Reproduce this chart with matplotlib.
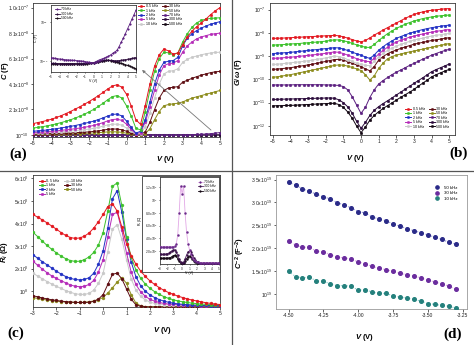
import numpy as np
import matplotlib
matplotlib.use("Agg")
import matplotlib.pyplot as plt
from matplotlib.lines import Line2D
from matplotlib.patches import Rectangle

plt.rcParams['font.family'] = ['Liberation Sans', 'DejaVu Sans']
plt.rcParams['mathtext.fontset'] = 'custom'
plt.rcParams['mathtext.rm'] = 'Liberation Sans'
plt.rcParams['mathtext.it'] = 'Liberation Sans:italic:bold'
plt.rcParams['mathtext.bf'] = 'Liberation Sans:bold'
plt.rcParams['mathtext.default'] = 'regular'

# ---------------------------------------------------------------- data
# bias sweep for C-V and G/w-V (V)
V_ab = [-5.0, -4.75, -4.5, -4.25, -4.0, -3.75, -3.5, -3.25, -3.0, -2.75, -2.5,
        -2.25, -2.0, -1.75, -1.5, -1.25, -1.0, -0.75, -0.5, -0.25, 0.0, 0.25,
        0.5, 0.75, 1.0, 1.25, 1.5, 1.75, 2.0, 2.25, 2.5, 2.75, 3.0, 3.25, 3.5,
        3.75, 4.0, 4.25, 4.5, 4.75, 5.0]

freq_labels = ['0.5 kHz', '1 kHz', '2 kHz', '5 kHz', '10 kHz',
               '30 kHz', '50 kHz', '70 kHz', '300 kHz', '500 kHz']
freq_colors = ['#e3171f', '#3cc12b', '#2231c4', '#b52bb8', '#c9c9c9',
               '#5e0d12', '#8c8c1c', '#5c2080', '#2c0c3c', '#140814']

# capacitance (units of 1e-8 F)
C_05k = [0.90, 0.98, 1.06, 1.15, 1.25, 1.38, 1.52, 1.68, 1.85, 2.03, 2.22, 2.42, 2.63, 2.86,
         3.10, 3.35, 3.62, 3.85, 3.95, 3.75, 3.20, 2.30, 1.20, 0.85, 2.30, 4.00, 5.40, 6.30,
         6.75, 6.60, 6.35, 6.45, 7.10, 7.70, 8.15, 8.50, 8.80, 9.10, 9.45, 9.75, 10.0]
C_1k = [0.55, 0.60, 0.66, 0.72, 0.80, 0.88, 0.98, 1.08, 1.20, 1.33, 1.48, 1.64, 1.82, 2.02,
        2.25, 2.50, 2.78, 3.02, 3.10, 2.90, 2.30, 1.50, 0.55, 0.40, 1.80, 3.50, 5.00, 6.00,
        6.50, 6.45, 6.30, 6.45, 7.30, 7.95, 8.45, 8.80, 9.00, 9.10, 9.15, 9.18, 9.20]
C_2k = [0.30, 0.33, 0.36, 0.40, 0.45, 0.50, 0.56, 0.62, 0.68, 0.75, 0.83, 0.92, 1.00, 1.10,
        1.22, 1.35, 1.50, 1.62, 1.65, 1.50, 1.10, 0.60, 0.15, 0.30, 1.20, 2.60, 4.00, 5.10,
        5.70, 5.80, 5.85, 6.10, 7.00, 7.60, 7.95, 8.20, 8.40, 8.55, 8.70, 8.80, 8.90]
C_5k = [0.20, 0.22, 0.24, 0.27, 0.30, 0.33, 0.37, 0.41, 0.45, 0.50, 0.55, 0.61, 0.68, 0.76,
        0.86, 0.98, 1.12, 1.22, 1.25, 1.15, 0.85, 0.45, 0.10, 0.20, 1.00, 2.20, 3.50, 4.70,
        5.45, 5.60, 5.65, 5.85, 6.50, 7.00, 7.30, 7.55, 7.70, 7.80, 7.90, 7.95, 8.00]
C_10k = [0.13, 0.15, 0.17, 0.19, 0.21, 0.23, 0.26, 0.29, 0.32, 0.35, 0.39, 0.43, 0.47, 0.53,
         0.60, 0.70, 0.80, 0.86, 0.85, 0.78, 0.55, 0.30, 0.06, 0.10, 0.65, 1.70, 2.90, 4.00,
         4.80, 5.00, 5.05, 5.20, 5.70, 5.95, 6.10, 6.20, 6.30, 6.38, 6.44, 6.48, 6.50]
C_30k = [0.08, 0.09, 0.10, 0.11, 0.12, 0.13, 0.14, 0.15, 0.17, 0.19, 0.21, 0.23, 0.25, 0.29,
         0.33, 0.39, 0.45, 0.48, 0.47, 0.42, 0.30, 0.16, 0.04, 0.06, 0.25, 1.00, 2.00, 2.90,
         3.50, 3.70, 3.75, 3.80, 4.15, 4.30, 4.45, 4.58, 4.70, 4.80, 4.90, 4.96, 5.00]
C_50k = [0.05, 0.05, 0.06, 0.06, 0.07, 0.07, 0.08, 0.09, 0.10, 0.11, 0.12, 0.13, 0.15, 0.17,
         0.19, 0.22, 0.25, 0.26, 0.25, 0.22, 0.15, 0.08, 0.02, 0.03, 0.10, 0.50, 1.20, 1.85,
         2.30, 2.40, 2.45, 2.50, 2.60, 2.75, 2.90, 3.00, 3.10, 3.20, 3.30, 3.40, 3.50]
# high-frequency capacitance (units of 1e-10 F)
C_70k = [1.22, 1.19, 1.16, 1.14, 1.12, 1.10, 1.08, 1.07, 1.06, 1.05, 1.04, 1.03, 1.02, 1.01,
         1.00, 0.98, 0.96, 0.94, 0.92, 0.90, 0.90, 0.95, 1.02, 1.08, 1.12, 1.17, 1.23, 1.32,
         1.42, 1.55, 1.70, 1.85, 2.30, 3.00, 3.80, 5.00, 6.60, 8.60, 11.5, 15.0, 20.0]
C_300k = [0.86, 0.86, 0.86, 0.85, 0.85, 0.85, 0.85, 0.85, 0.85, 0.85, 0.85, 0.85, 0.85, 0.85,
          0.85, 0.85, 0.86, 0.86, 0.87, 0.88, 0.90, 0.93, 0.96, 0.99, 1.01, 1.03, 1.04, 1.04,
          1.03, 1.02, 1.01, 1.01, 1.02, 1.04, 1.06, 1.08, 1.10, 1.13, 1.16, 1.19, 1.22]
C_500k = [0.85, 0.85, 0.85, 0.84, 0.84, 0.84, 0.84, 0.84, 0.84, 0.84, 0.84, 0.84, 0.84, 0.84,
          0.84, 0.84, 0.85, 0.85, 0.86, 0.87, 0.89, 0.92, 0.95, 0.98, 1.00, 1.02, 1.03, 1.03,
          1.01, 0.99, 0.96, 0.93, 0.90, 0.87, 0.84, 0.80, 0.77, 0.73, 0.70, 0.66, 0.63]

# log10 of G/w (F)
Gw_05k = [-8.24, -8.235, -8.23, -8.22, -8.21, -8.20, -8.19, -8.18, -8.17, -8.16, -8.15, -8.14,
          -8.13, -8.12, -8.11, -8.13, -8.17, -8.23, -8.29, -8.35, -8.39, -8.33, -8.22, -8.10,
          -7.99, -7.88, -7.78, -7.68, -7.58, -7.48, -7.38, -7.29, -7.21, -7.15, -7.10, -7.06,
          -7.03, -7.01, -6.99, -6.97, -6.96]
Gw_1k = [-8.53, -8.52, -8.51, -8.50, -8.48, -8.47, -8.46, -8.44, -8.43, -8.41, -8.40, -8.38,
         -8.36, -8.33, -8.30, -8.31, -8.34, -8.39, -8.45, -8.52, -8.57, -8.62, -8.63, -8.50,
         -8.33, -8.18, -8.04, -7.92, -7.81, -7.72, -7.63, -7.56, -7.49, -7.44, -7.39, -7.35,
         -7.32, -7.29, -7.27, -7.25, -7.24]
Gw_2k = [-8.89, -8.88, -8.87, -8.85, -8.84, -8.82, -8.80, -8.78, -8.76, -8.74, -8.72, -8.70,
         -8.68, -8.66, -8.64, -8.65, -8.70, -8.76, -8.83, -8.90, -8.96, -9.04, -9.10, -8.95,
         -8.75, -8.60, -8.46, -8.35, -8.24, -8.16, -8.09, -8.02, -7.96, -7.91, -7.86, -7.82,
         -7.78, -7.75, -7.72, -7.69, -7.67]
Gw_5k = [-9.10, -9.09, -9.08, -9.06, -9.05, -9.03, -9.01, -8.99, -8.97, -8.95, -8.93, -8.91,
         -8.88, -8.85, -8.82, -8.84, -8.89, -8.96, -9.03, -9.11, -9.17, -9.22, -9.24, -9.10,
         -8.91, -8.76, -8.62, -8.50, -8.39, -8.32, -8.25, -8.19, -8.14, -8.09, -8.05, -8.01,
         -7.97, -7.94, -7.91, -7.88, -7.86]
Gw_10k = [-9.36, -9.35, -9.33, -9.31, -9.29, -9.27, -9.25, -9.23, -9.20, -9.17, -9.14, -9.11,
          -9.08, -9.04, -9.00, -9.02, -9.07, -9.15, -9.23, -9.31, -9.36, -9.40, -9.41, -9.23,
          -9.03, -8.88, -8.76, -8.66, -8.57, -8.50, -8.43, -8.37, -8.31, -8.27, -8.23, -8.18,
          -8.14, -8.11, -8.08, -8.05, -8.03]
Gw_30k = [-9.57, -9.56, -9.54, -9.52, -9.50, -9.47, -9.44, -9.41, -9.38, -9.35, -9.31, -9.27,
          -9.23, -9.19, -9.15, -9.14, -9.17, -9.24, -9.31, -9.38, -9.45, -9.55, -9.63, -9.45,
          -9.17, -9.02, -8.90, -8.81, -8.74, -8.67, -8.61, -8.55, -8.49, -8.45, -8.41, -8.37,
          -8.33, -8.30, -8.27, -8.24, -8.21]
Gw_50k = [-9.91, -9.89, -9.86, -9.83, -9.80, -9.76, -9.72, -9.68, -9.64, -9.60, -9.56, -9.52,
          -9.48, -9.44, -9.40, -9.38, -9.39, -9.43, -9.49, -9.55, -9.62, -9.80, -10.03, -9.85,
          -9.53, -9.30, -9.12, -9.02, -8.96, -8.91, -8.86, -8.82, -8.78, -8.74, -8.70, -8.66,
          -8.62, -8.58, -8.54, -8.50, -8.46]
Gw_70k = [-10.24, -10.24, -10.24, -10.24, -10.24, -10.23, -10.23, -10.23, -10.23, -10.23,
          -10.23, -10.23, -10.24, -10.24, -10.25, -10.26, -10.31, -10.45, -10.74, -11.10,
          -11.46, -11.20, -10.78, -10.45, -10.20, -10.05, -9.92, -9.80, -9.69, -9.60, -9.50,
          -9.40, -9.31, -9.22, -9.13, -9.05, -8.96, -8.89, -8.82, -8.76, -8.71]
Gw_300k = [-10.86, -10.86, -10.85, -10.85, -10.84, -10.84, -10.83, -10.83, -10.82, -10.82,
           -10.81, -10.81, -10.80, -10.80, -10.81, -10.88, -11.00, -11.18, -11.45, -11.80,
           -12.10, -11.85, -11.55, -11.33, -11.17, -11.04, -10.92, -10.80, -10.67, -10.55,
           -10.42, -10.30, -10.17, -10.05, -9.93, -9.80, -9.67, -9.58, -9.50, -9.42, -9.34]
Gw_500k = [-11.14, -11.13, -11.13, -11.12, -11.12, -11.11, -11.10, -11.09, -11.08, -11.07,
           -11.06, -11.05, -11.04, -11.03, -11.03, -11.08, -11.20, -11.40, -11.67, -12.00,
           -12.29, -12.05, -11.75, -11.55, -11.39, -11.25, -11.13, -11.01, -10.89, -10.77,
           -10.66, -10.55, -10.43, -10.29, -10.16, -10.03, -9.89, -9.80, -9.72, -9.64, -9.57]

# interface resistance vs bias (units of 1e8 Ohm)
V_c = [-3.0, -2.8, -2.6, -2.4, -2.2, -2.0, -1.8, -1.6, -1.4, -1.2, -1.0, -0.8, -0.6, -0.4,
       -0.2, 0.0, 0.2, 0.4, 0.6, 0.8, 1.0, 1.2, 1.4, 1.6, 1.8, 2.0, 2.2, 2.4, 2.6, 2.8, 3.0,
       3.2, 3.4, 3.6, 3.8, 4.0, 4.2, 4.4, 4.6, 4.8, 5.0]
R_labels = ['0. 5 kHz', '1 kHz', '2 kHz', '5 kHz', '10 kHz', '30 kHz', '50 kHz']
R_05k = [4.40, 4.28, 4.16, 4.03, 3.89, 3.75, 3.60, 3.47, 3.38, 3.34, 3.36, 3.44, 3.58, 3.80,
         4.08, 4.40, 4.75, 4.88, 4.55, 3.85, 3.10, 2.58, 2.20, 1.90, 1.66, 1.46, 1.30, 1.16,
         1.04, 0.94, 0.86, 0.78, 0.72, 0.66, 0.61, 0.57, 0.53, 0.49, 0.46, 0.43, 0.41]
R_1k = [3.61, 3.42, 3.22, 3.03, 2.86, 2.70, 2.56, 2.44, 2.36, 2.32, 2.33, 2.40, 2.52, 2.72,
        3.05, 3.60, 4.55, 5.65, 5.80, 4.80, 3.40, 2.50, 1.95, 1.58, 1.32, 1.13, 0.98, 0.86,
        0.76, 0.68, 0.62, 0.57, 0.53, 0.50, 0.47, 0.45, 0.43, 0.42, 0.41, 0.40, 0.40]
R_2k = [2.62, 2.46, 2.31, 2.17, 2.03, 1.89, 1.76, 1.65, 1.57, 1.52, 1.50, 1.52, 1.60, 1.80,
        2.20, 2.80, 3.80, 5.10, 5.45, 4.50, 3.30, 2.30, 1.65, 1.25, 1.00, 0.84, 0.72, 0.63,
        0.56, 0.51, 0.47, 0.44, 0.42, 0.40, 0.39, 0.38, 0.37, 0.37, 0.36, 0.36, 0.36]
R_5k = [2.33, 2.15, 1.98, 1.82, 1.68, 1.57, 1.47, 1.37, 1.28, 1.22, 1.20, 1.22, 1.30, 1.48,
        1.85, 2.40, 3.40, 4.40, 4.50, 3.70, 2.70, 1.85, 1.30, 0.98, 0.78, 0.64, 0.56, 0.50,
        0.46, 0.43, 0.42, 0.40, 0.39, 0.38, 0.37, 0.37, 0.36, 0.36, 0.36, 0.36, 0.36]
R_10k = [1.80, 1.67, 1.55, 1.43, 1.32, 1.22, 1.12, 1.03, 0.95, 0.89, 0.86, 0.86, 0.90, 1.05,
         1.35, 1.80, 2.75, 3.75, 3.95, 3.30, 2.40, 1.55, 1.05, 0.78, 0.62, 0.52, 0.46, 0.43,
         0.41, 0.40, 0.39, 0.39, 0.38, 0.38, 0.38, 0.37, 0.37, 0.37, 0.37, 0.37, 0.37]
R_30k = [0.80, 0.75, 0.70, 0.66, 0.62, 0.59, 0.56, 0.54, 0.52, 0.51, 0.50, 0.50, 0.51, 0.55,
         0.65, 0.85, 1.30, 1.75, 1.80, 1.55, 1.10, 0.65, 0.40, 0.33, 0.31, 0.30, 0.30, 0.30,
         0.30, 0.30, 0.30, 0.30, 0.30, 0.30, 0.30, 0.30, 0.30, 0.30, 0.30, 0.30, 0.30]
R_50k = [0.72, 0.68, 0.64, 0.61, 0.58, 0.56, 0.54, 0.52, 0.51, 0.50, 0.50, 0.51, 0.53, 0.57,
         0.63, 0.72, 0.92, 1.15, 1.40, 1.60, 1.35, 0.85, 0.48, 0.35, 0.32, 0.31, 0.31, 0.31,
         0.31, 0.31, 0.31, 0.31, 0.31, 0.31, 0.31, 0.31, 0.31, 0.31, 0.31, 0.31, 0.31]
R_70k = [2.70, 2.70, 2.70, 2.70, 2.70, 2.70, 2.70, 2.70, 2.70, 2.70, 2.75, 3.10, 4.50, 8.00,
         12.2, 11.0, 12.2, 8.00, 5.00, 3.20, 2.20, 1.50, 1.00, 0.70, 0.50, 0.35, 0.25, 0.22,
         0.20, 0.20, 0.20, 0.20, 0.20, 0.20, 0.20, 0.20, 0.20, 0.20, 0.20, 0.20, 0.20]
R_300k = [1.50, 1.50, 1.50, 1.52, 1.55, 1.60, 1.70, 1.85, 2.05, 2.20, 2.20, 1.90, 1.40, 0.80,
          0.30, 0.10, 0.30, 0.80, 1.40, 1.90, 2.05, 1.85, 1.40, 0.95, 0.60, 0.38, 0.25, 0.18,
          0.15, 0.13, 0.12, 0.12, 0.12, 0.12, 0.12, 0.12, 0.12, 0.12, 0.12, 0.12, 0.12]
R_500k = [0.90, 0.90, 0.90, 0.90, 0.90, 0.92, 0.95, 1.00, 1.15, 1.30, 1.35, 1.20, 0.85, 0.45,
          0.15, 0.05, 0.15, 0.45, 0.85, 1.15, 1.25, 1.10, 0.80, 0.50, 0.30, 0.20, 0.13, 0.11,
          0.10, 0.10, 0.10, 0.10, 0.10, 0.10, 0.10, 0.10, 0.10, 0.10, 0.10, 0.10, 0.10]

# Mott-Schottky data, 1/C^2 (units of 1e19 F^-2)
V_d = [-4.50, -4.45, -4.40, -4.35, -4.30, -4.25, -4.20, -4.15, -4.10, -4.05, -4.00, -3.95,
       -3.90, -3.85, -3.80, -3.75, -3.70, -3.65, -3.60, -3.55, -3.50, -3.45, -3.40, -3.35, -3.30]
MS_50k = [3.44, 3.38, 3.30, 3.24, 3.18, 3.12, 3.08, 2.99, 2.95, 2.88, 2.80, 2.77, 2.68, 2.64,
          2.60, 2.53, 2.48, 2.43, 2.38, 2.34, 2.29, 2.24, 2.19, 2.13, 2.09]
MS_30k = [2.16, 2.07, 2.02, 2.02, 1.93, 1.92, 1.86, 1.80, 1.79, 1.76, 1.70, 1.66, 1.60, 1.56,
          1.53, 1.49, 1.45, 1.42, 1.39, 1.35, 1.30, 1.26, 1.22, 1.17, 1.10]
MS_10k = [1.49, 1.38, 1.35, 1.37, 1.28, 1.28, 1.22, 1.18, 1.18, 1.17, 1.08, 1.09, 1.04, 1.01,
          1.01, 0.96, 0.93, 0.91, 0.88, 0.84, 0.79, 0.77, 0.75, 0.73, 0.69]

# ---------------------------------------------------------------- helpers
W, H = 474, 345
fig = plt.figure(figsize=(W / 100, H / 100), dpi=100)


def px_axes(x0, y0, x1, y1, z=0):
    """Axes from pixel box (left, top, right, bottom)."""
    ax = fig.add_axes([x0 / W, 1 - y1 / H, (x1 - x0) / W, (y1 - y0) / H])
    ax.set_zorder(z)
    return ax


def style(ax, fs=3.6):
    for sp in ax.spines.values():
        sp.set_color('#3a3a3a')
        sp.set_linewidth(0.6)
    ax.tick_params(direction='out', length=1.8, width=0.5, labelsize=fs, pad=1.2,
                   colors='#222222')


def series(ax, x, y, color, label, ms=1.9, lw=0.7, z=3, mfc=None, lc=None):
    ax.plot(x, y, '-', color=lc or color, lw=lw, marker='o', ms=ms, mec=color,
            mfc=mfc or color, mew=0.3, label=label, zorder=z)


def small_legend(ax, fs=2.6, **kw):
    leg = ax.legend(frameon=False, fontsize=fs, handlelength=1.6, handletextpad=0.4,
                    labelspacing=0.12, borderpad=0.2, markerscale=0.9, **kw)
    return leg


V = np.array(V_ab)

# ---------------------------------------------------------------- (a) C-V
axa = px_axes(33, 3, 220, 137)
style(axa)
C_low = [C_05k, C_1k, C_2k, C_5k, C_10k, C_30k, C_50k]
C_high = [C_70k, C_300k, C_500k]
for i, vals in enumerate(C_low):
    series(axa, V, np.array(vals) * 1e-8, freq_colors[i], freq_labels[i], z=20 - i)
for j, vals in enumerate(C_high):
    series(axa, V, np.array(vals) * 1e-10, freq_colors[7 + j], freq_labels[7 + j], z=5 - j)
axa.set_xlim(-5, 5)
axa.set_ylim(-1.5e-9, 1.036e-7)
axa.set_xticks([-5, -4, -3, -2, -1, 0, 1, 2, 3, 4, 5])
axa.set_yticks(np.linspace(1e-10, 1e-7, 6))
axa.set_yticklabels([r'$10^{-10}$', r'2.1x$10^{-8}$', r'4.1x$10^{-8}$',
                     r'6.1x$10^{-8}$', r'8.1x$10^{-8}$', r'1.0x$10^{-7}$'])
axa.set_xlabel(r'$\mathit{V}$ (V)', fontsize=5.5, fontweight='bold')
axa.xaxis.set_label_coords(0.71, -0.125)
axa.set_ylabel(r'$\mathit{C}$ (F)', fontsize=5.5, fontweight='bold')
axa.yaxis.set_label_coords(-0.115, 0.5)
small_legend(axa, ncol=2, loc='upper left', bbox_to_anchor=(0.55, 1.01),
             columnspacing=1.2)
axa.annotate('', xy=(0.72, 5.25e-8), xytext=(4.63, 0.25e-8),
             arrowprops=dict(arrowstyle='-|>', color='#777777', lw=0.6,
                             mutation_scale=4), zorder=30)

# inset of (a): high-frequency C-V on log scale
axai = px_axes(51, 5, 136, 72, z=1)
style(axai, fs=2.3)
axai.tick_params(length=1.0, pad=0.8)
for j, vals in enumerate(C_high):
    series(axai, V, np.array(vals) * 1e-10, freq_colors[7 + j], freq_labels[7 + j],
           ms=1.2, lw=0.6, z=5 - j)
axai.set_yscale('log')
axai.set_xlim(-5, 5)
axai.set_ylim(5.2e-11, 2.7e-9)
axai.set_xticks([-5, -4, -3, -2, -1, 0, 1, 2, 3, 4, 5])
axai.set_yticks([1e-10, 1e-9])
axai.set_yticklabels([r'$10^{-10}$', r'$10^{-9}$'])
axai.yaxis.set_minor_locator(matplotlib.ticker.NullLocator())
axai.set_xlabel('V (V)', fontsize=2.5, labelpad=0.5)
axai.set_ylabel('C (F)', fontsize=2.5, labelpad=0.5)
small_legend(axai, fs=2.3, loc='upper left', bbox_to_anchor=(0.02, 1.0))

# ---------------------------------------------------------------- (b) G/w-V
axb = px_axes(270, 3, 455, 135)
style(axb)
Gw_all = [Gw_05k, Gw_1k, Gw_2k, Gw_5k, Gw_10k, Gw_30k, Gw_50k, Gw_70k, Gw_300k, Gw_500k]
for i, logs in enumerate(Gw_all):
    series(axb, V, 10.0 ** np.array(logs), freq_colors[i], freq_labels[i], z=20 - i)
axb.set_yscale('log')
axb.set_xlim(-5.15, 5.32)
axb.set_ylim(10 ** -12.39, 10 ** -6.72)
axb.set_xticks([-5, -4, -3, -2, -1, 0, 1, 2, 3, 4, 5])
axb.set_yticks([1e-12, 1e-11, 1e-10, 1e-9, 1e-8, 1e-7])
axb.set_yticklabels([r'$10^{-12}$', r'$10^{-11}$', r'$10^{-10}$', r'$10^{-9}$',
                     r'$10^{-8}$', r'$10^{-7}$'])
axb.yaxis.set_minor_locator(matplotlib.ticker.NullLocator())
axb.set_xlabel(r'$\mathit{V}$ (V)', fontsize=5.5, fontweight='bold')
axb.xaxis.set_label_coords(0.46, -0.14)
axb.set_ylabel(r'$\mathit{G/\omega}$ (F)', fontsize=5.5, fontweight='bold')
axb.yaxis.set_label_coords(-0.14, 0.48)
small_legend(axb, ncol=2, loc='lower right', bbox_to_anchor=(0.985, 0.03),
             columnspacing=1.2)

# ---------------------------------------------------------------- (c) R-V
axc = px_axes(33, 175, 220, 307)
style(axc)
R_all = [R_05k, R_1k, R_2k, R_5k, R_10k, R_30k, R_50k]
Vc = np.array(V_c)
for i, vals in enumerate(R_all):
    series(axc, Vc, np.array(vals) * 1e8, freq_colors[i], R_labels[i], ms=2.1, z=20 - i)
axc.set_xlim(-3, 5)
axc.set_ylim(0.3e8, 6.15e8)
axc.set_xticks([-3, -2, -1, 0, 1, 2, 3, 4, 5])
axc.set_yticks([1e8, 2e8, 3e8, 4e8, 5e8, 6e8])
axc.set_yticklabels([r'$10^{8}$', r'2x$10^{8}$', r'3x$10^{8}$', r'4x$10^{8}$',
                     r'5x$10^{8}$', r'6x$10^{8}$'])
axc.set_xlabel(r'$\mathit{V}$ (V)', fontsize=5.5, fontweight='bold')
axc.xaxis.set_label_coords(0.695, -0.14)
axc.set_ylabel(r'$\mathit{R_i}$ ($\Omega$)', fontsize=5.5, fontweight='bold')
axc.yaxis.set_label_coords(-0.125, 0.42)
small_legend(axc, ncol=2, loc='upper left', bbox_to_anchor=(0.02, 0.99),
             columnspacing=1.2)

# white panel holding the inset of (c)
fig.add_artist(Rectangle((142 / W, 1 - 272 / H), 78 / W, 96 / H, transform=fig.transFigure,
                         facecolor='white', edgecolor='#3a3a3a', lw=0.6, zorder=0.5))

# inset of (c): high-frequency R-V
axci = px_axes(160, 177, 219, 264, z=1)
style(axci, fs=2.3)
axci.tick_params(length=1.0, pad=0.8)
R_high = [R_70k, R_300k, R_500k]
high_face = ['#6a2a8a', '#3a1248', '#140814']
high_line = ['#e2a8e6', '#5a2a6a', '#140814']
for j, vals in enumerate(R_high):
    series(axci, Vc, np.array(vals) * 1e8, high_face[j], freq_labels[7 + j], ms=1.4,
           lw=0.6, lc=high_line[j], z=5 - j)
axci.set_xlim(-3, 5)
axci.set_ylim(0, 1.36e9)
axci.set_xticks([-3, -2, -1, 0, 1, 2, 3, 4, 5])
axci.set_yticks([2e8, 4e8, 6e8, 8e8, 1e9, 1.2e9])
axci.set_yticklabels([r'2.0x$10^{8}$', r'4.0x$10^{8}$', r'6.0x$10^{8}$',
                      r'8.0x$10^{8}$', r'$10^{9}$', r'1.2x$10^{9}$'])
axci.set_xlabel('V (V)', fontsize=2.5, labelpad=0.5)
axci.set_ylabel(r'$R_i$ ($\Omega$)', fontsize=2.5, labelpad=0.5)
small_legend(axci, fs=2.3, loc='upper right', bbox_to_anchor=(0.99, 0.99))

# ---------------------------------------------------------------- (d) Mott-Schottky
axd = px_axes(276, 175, 467, 309)
style(axd)
ms_sets = [(MS_50k, '50 kHz', '#2a2a88', '#8d8fd8'),
           (MS_30k, '30 kHz', '#6a2c9e', '#e0a6e4'),
           (MS_10k, '10 kHz', '#24807c', '#86d2d0')]
Vd = np.array(V_d)
for vals, lab, mc, lc in ms_sets:
    y = np.array(vals) * 1e19
    axd.plot(Vd, y, ':', color=lc, lw=0.8, zorder=2)
    axd.plot(Vd, y, 'o', ls='none', ms=2.6, color=mc, mec=mc, label=lab, zorder=3)
axd.set_xlim(-4.59, -3.22)
axd.set_ylim(0.67e19, 3.6e19)
axd.set_xticks([-4.5, -4.25, -4.0, -3.75, -3.5, -3.25])
axd.set_xticklabels(['-4.50', '-4.25', '-4.00', '-3.75', '-3.50', '-3.25'])
axd.set_yticks([1e19, 1.5e19, 2e19, 2.5e19, 3e19, 3.5e19])
axd.set_yticklabels([r'$10^{19}$', r'1.5x$10^{19}$', r'2.0x$10^{19}$',
                     r'2.5x$10^{19}$', r'3.0x$10^{19}$', r'3.5x$10^{19}$'])
for sp in axd.spines.values():
    sp.set_color('#9a9a9a')
axd.set_xlabel(r'$\mathit{V}$ (V)', fontsize=5.5, fontweight='bold')
axd.xaxis.set_label_coords(0.466, -0.17)
axd.set_ylabel(r'$\mathit{C}^{-2}$ (F$^{-2}$)', fontsize=5.5, fontweight='bold')
axd.yaxis.set_label_coords(-0.15, 0.42)
axd.legend(frameon=False, fontsize=3.2, loc='upper right', bbox_to_anchor=(0.97, 0.95),
           handletextpad=0.6, labelspacing=0.3, markerscale=0.9)

# ---------------------------------------------------------------- panel frame and tags
fig.add_artist(Line2D([232 / W, 232 / W], [0, 1], color='#555555', lw=0.9))
fig.add_artist(Line2D([0, 1], [1 - 171 / H, 1 - 171 / H], color='#555555', lw=0.9))
tag = dict(fontsize=11, fontweight='bold', family=['Liberation Serif', 'DejaVu Serif'],
           ha='center', va='center')
fig.text(18 / W, 1 - 154 / H, '(a)', **tag)
fig.text(459 / W, 1 - 153 / H, '(b)', **tag)
fig.text(16 / W, 1 - 333 / H, '(c)', **tag)
fig.text(453 / W, 1 - 334 / H, '(d)', **tag)

fig.savefig('out.png', dpi=100, facecolor='white')
